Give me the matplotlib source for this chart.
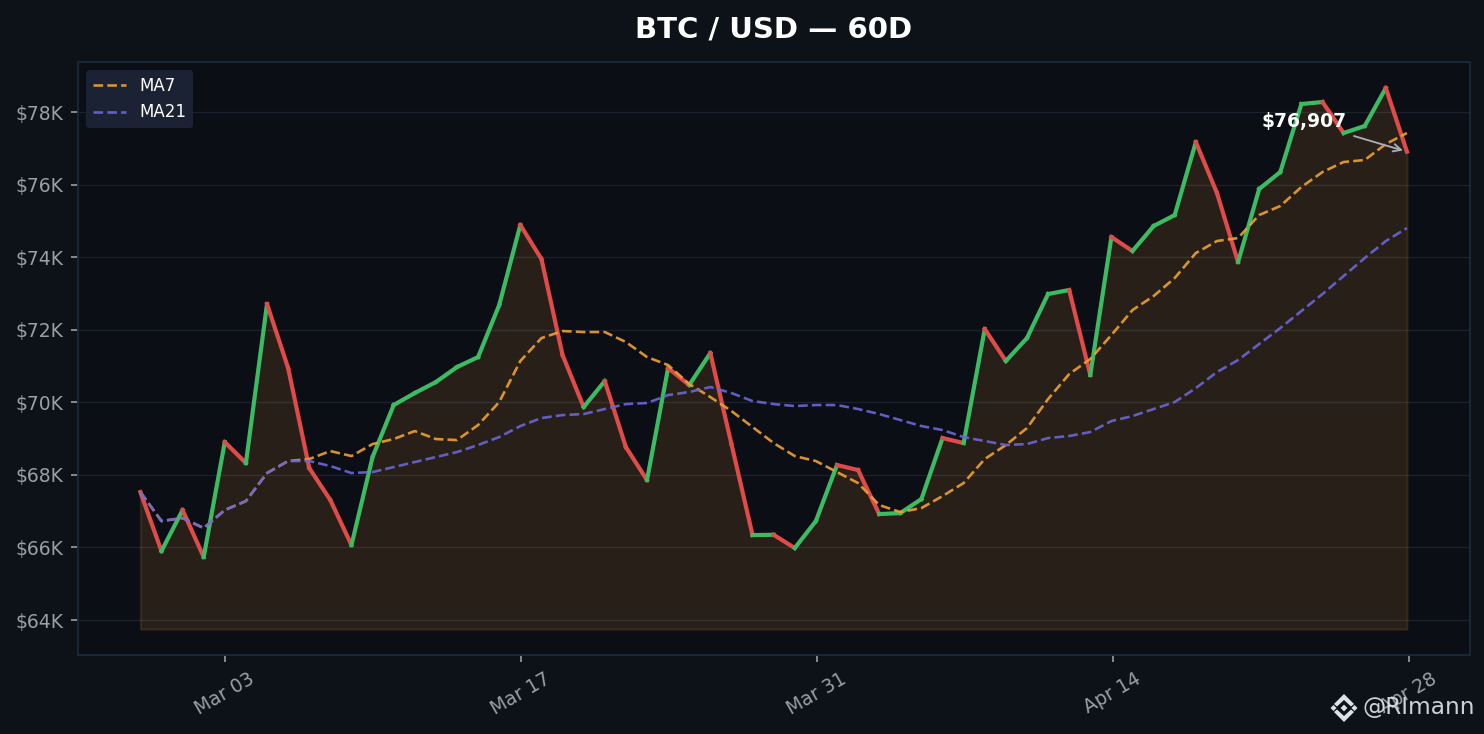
import numpy as np
import pandas as pd
import matplotlib
matplotlib.use("Agg")
import matplotlib.pyplot as plt
import matplotlib.dates as mdates
from matplotlib.patches import Polygon

start_date = "2026-02-27"
end_stamp = "2026-04-27 22:00"
close = [67527, 65901, 67031, 65736, 68905, 68326, 72708, 70945, 68189, 67307,
         66067, 68492, 69925, 70256, 70559, 70972, 71248, 72681, 74886, 73949,
         71303, 69870, 70586, 68767, 67858, 70945, 70476, 71358, 68850, 66342,
         66350, 65984, 66728, 68271, 68134, 66921, 66948, 67334, 69015, 68878,
         72019, 71138, 71771, 72984, 73094, 70752, 74555, 74169, 74858, 75161,
         77173, 75768, 73866, 75878, 76346, 78220, 78276, 77421, 77614, 78661,
         76907]
ma7 = [67527, 66728, 66811, 66535, 67031, 67279, 68051, 68382, 68437, 68657,
       68519, 68850, 68988, 69208, 68988, 68960, 69374, 70008, 71138, 71771,
       71964, 71937, 71937, 71661, 71248, 71027, 70504, 70145, 69760, 69319,
       68878, 68519, 68382, 68078, 67775, 67169, 66976, 67086, 67417, 67775,
       68437, 68823, 69291, 70090, 70779, 71193, 71854, 72543, 72929, 73425,
       74114, 74445, 74527, 75161, 75409, 75933, 76346, 76622, 76677, 77118,
       77421]
ma21 = [67527, 66728, 66811, 66535, 67031, 67279, 68051, 68382, 68382, 68244,
        68051, 68078, 68216, 68354, 68492, 68630, 68823, 69043, 69346, 69567,
        69649, 69677, 69815, 69952, 69980, 70201, 70283, 70421, 70256, 70035,
        69952, 69897, 69925, 69925, 69815, 69677, 69512, 69346, 69236, 69043,
        68933, 68823, 68850, 69015, 69071, 69181, 69484, 69622, 69815, 70008,
        70393, 70834, 71165, 71606, 72047, 72516, 72984, 73480, 73976, 74445,
        74803]
fill_floor = 63750
y_ticks = [64000, 66000, 68000, 70000, 72000, 74000, 76000, 78000]
x_ticks = ["2026-03-03", "2026-03-17", "2026-03-31", "2026-04-14", "2026-04-28"]

BG = "#0d1118"
W, H = 1484, 734
fig = plt.figure(figsize=(W / 150, H / 150), dpi=150, facecolor=BG)
ax = fig.add_axes([78 / W, 1 - 655 / H, (1470 - 78) / W, (655 - 62) / H], facecolor="#0b0e15")

dates = pd.date_range(start_date, end_stamp, periods=len(close))
xs = mdates.date2num(dates)

ax.fill_between(xs, close, fill_floor, color="#f0a030", alpha=0.13, linewidth=1.0, zorder=2)
for i in range(len(close) - 1):
    col = "#3dbb63" if close[i + 1] >= close[i] else "#e04b4a"
    ax.plot(xs[i:i + 2], close[i:i + 2], color=col, lw=2.0, zorder=3)
ax.plot(xs, ma7, color="#f0a030", lw=1.25, ls="--", alpha=0.9, label="MA7", zorder=4)
ax.plot(xs, ma21, color="#6a66d8", lw=1.25, ls="--", alpha=0.9, label="MA21", zorder=4)

ax.set_xlim(mdates.date2num(pd.Timestamp(x_ticks[0])) - 6.95,
            mdates.date2num(pd.Timestamp(x_ticks[-1])) + 2.9)
ax.set_ylim(63037, 79378)
ax.set_yticks(y_ticks)
ax.set_yticklabels([f"${v // 1000}K" for v in y_ticks])
ax.set_xticks(mdates.date2num(pd.to_datetime(x_ticks)))
ax.set_xticklabels([pd.Timestamp(d).strftime("%b %d") for d in x_ticks], rotation=30, ha="center")
ax.tick_params(axis="both", colors="#9a9fa8", labelsize=9, length=3.5, width=0.8)
ax.grid(axis="y", color="#1c222d", lw=0.6)
ax.set_axisbelow(True)
for s in ax.spines.values():
    s.set_color("#1c2935")
    s.set_linewidth(0.9)

leg = ax.legend(loc="upper left", fontsize=8, facecolor="#1a2233", edgecolor="none",
                framealpha=1.0, labelcolor="white")
leg.set_zorder(6)

ax.annotate(f"${close[-1]:,}", xy=(xs[-1], close[-1]), xytext=(-70, 12),
            textcoords="offset points", color="white", fontsize=9, fontweight="bold",
            arrowprops=dict(arrowstyle="->", color="#a8acb4", lw=0.9), zorder=7)

fig.text(774 / W, 1 - 29 / H, "BTC / USD — 60D", color="white", fontsize=14,
         fontweight="bold", ha="center", va="center")

# watermark
fig.text(1362 / W, 1 - 708 / H, "@RImann", color="#e4e6ea", fontsize=11.2, alpha=0.9,
         ha="left", va="center")
def px(x, y):
    return (x / W, 1 - y / H)
wm = "#dfe1e5"
for cx, cy, r in [(1344, 708, 3.4), (1333.5, 708, 3.0), (1354.5, 708, 3.0)]:
    fig.add_artist(Polygon([px(cx - r, cy), px(cx, cy - r), px(cx + r, cy), px(cx, cy + r)],
                           closed=True, transform=fig.transFigure, fc=wm, ec="none"))
for pts in [[(1344, 694), (1354, 704), (1351, 706.5), (1344, 700), (1337, 706.5), (1334, 704)],
            [(1344, 722), (1354, 712), (1351, 709.5), (1344, 716), (1337, 709.5), (1334, 712)]]:
    fig.add_artist(Polygon([px(*p) for p in pts], closed=True, transform=fig.transFigure,
                           fc=wm, ec="none"))

fig.savefig("out.png", dpi=150, facecolor=BG)
